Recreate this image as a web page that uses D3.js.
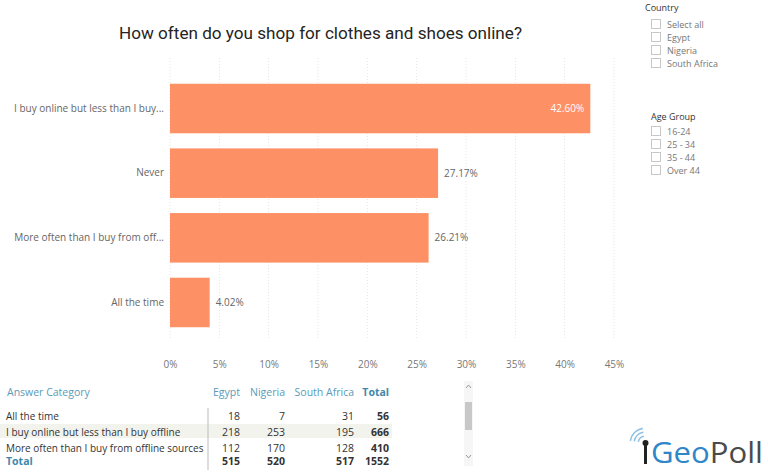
<!DOCTYPE html>
<html><head><meta charset="utf-8">
<script src="https://cdn.jsdelivr.net/npm/d3@7"></script>
<style>
html,body{margin:0;padding:0;background:#fff;}
svg{display:block;}
</style></head>
<body><svg id="c" width="768" height="472"></svg>
<script>
const title = "How often do you shop for clothes and shoes online?";
const categories = ["I buy online but less than I buy offline", "Never", "More often than I buy from offline sources", "All the time"];
const categoryLabels = ["I buy online but less than I buy...", "Never", "More often than I buy from off...", "All the time"];
const shares = [42.60, 27.17, 26.21, 4.02];
const xTicks = [0, 5, 10, 15, 20, 25, 30, 35, 40, 45];

const countryItems = ["Select all", "Egypt", "Nigeria", "South Africa"];
const ageItems = ["16-24", "25 - 34", "35 - 44", "Over 44"];

const tableColumns = ["Egypt", "Nigeria", "South Africa", "Total"];
const tableRows = ["All the time", "I buy online but less than I buy offline", "More often than I buy from offline sources"];
const egyptCounts = [18, 218, 112];
const nigeriaCounts = [7, 253, 170];
const southAfricaCounts = [31, 195, 128];
const totalCounts = [56, 666, 410];
const columnTotals = [515, 520, 517, 1552];

const svg = d3.select("#c");
const font = "'Open Sans', 'Noto Sans', sans-serif";
const barColor = "#FD9064";

// title
svg.append("text").attr("x", 119).attr("y", 39)
  .attr("font-family", "Roboto, 'DejaVu Sans', sans-serif").attr("font-size", 17)
  .attr("fill", "#252423").attr("textLength", 403).attr("lengthAdjust", "spacingAndGlyphs")
  .text(title);

// scales
const x = d3.scaleLinear().domain([0, 45]).range([170, 614]);
const y = d3.scaleBand().domain(categories).range([76, 335]).paddingInner(0.234).paddingOuter(0.12);

// gridlines
svg.append("g").selectAll("line").data(xTicks).join("line")
  .attr("x1", d => x(d)).attr("x2", d => x(d)).attr("y1", 58).attr("y2", 338)
  .attr("stroke", "#e4e4e4").attr("stroke-width", 1).attr("stroke-dasharray", "1,2");

// x axis
const xAxis = d3.axisBottom(x).tickValues(xTicks).tickFormat(d => d + "%").tickSize(0).tickPadding(0);
const gx = svg.append("g").attr("transform", "translate(0,361)").call(xAxis);
gx.select(".domain").remove();
gx.selectAll("text").attr("font-family", font).attr("font-size", 10).attr("fill", "#777");

// y axis
const yAxis = d3.axisLeft(y).tickSize(0).tickPadding(0).tickFormat((d, i) => categoryLabels[i]);
const gy = svg.append("g").attr("transform", "translate(164,0)").call(yAxis);
gy.select(".domain").remove();
gy.selectAll("text").attr("font-family", font).attr("font-size", 10).attr("fill", "#666");

// bars
svg.append("g").selectAll("rect").data(categories).join("rect")
  .attr("x", x(0)).attr("y", d => y(d))
  .attr("width", (d, i) => x(shares[i]) - x(0)).attr("height", y.bandwidth())
  .attr("fill", barColor);

// data labels
svg.append("g").selectAll("text").data(categories).join("text")
  .attr("x", (d, i) => shares[i] > 40 ? x(shares[i]) - 6 : x(shares[i]) + 6)
  .attr("y", d => y(d) + y.bandwidth() / 2 + 3.5)
  .attr("text-anchor", (d, i) => shares[i] > 40 ? "end" : "start")
  .attr("font-family", font).attr("font-size", 10)
  .attr("fill", (d, i) => shares[i] > 40 ? "#fff" : "#666")
  .text((d, i) => shares[i].toFixed(2) + "%");

// slicers
function slicer(header, items, hx, hy, boxY) {
  svg.append("text").attr("x", hx).attr("y", hy).attr("font-family", font)
    .attr("font-size", 9).attr("fill", "#333").text(header);
  const g = svg.append("g");
  items.forEach((it, i) => {
    g.append("rect").attr("x", 651.5).attr("y", boxY + i * 13 + 0.5).attr("width", 9).attr("height", 9)
      .attr("fill", "#fff").attr("stroke", "#c8c8c8");
    g.append("text").attr("x", 667).attr("y", boxY + i * 13 + 8.5).attr("font-family", font)
      .attr("font-size", 9).attr("fill", "#777").text(it);
  });
}
slicer("Country", countryItems, 645, 11, 19);
slicer("Age Group", ageItems, 651, 120, 126);

// table
const tbl = svg.append("g");
const colRight = [240, 285, 354, 389];
const rowY = [420, 436, 452];
const tfs = 10;
tbl.append("rect").attr("x", 0).attr("y", 424).attr("width", 392).attr("height", 14).attr("fill", "#f3f3ee");
tbl.append("line").attr("x1", 208).attr("x2", 208).attr("y1", 408).attr("y2", 470).attr("stroke", "#bbb");
tbl.append("text").attr("x", 7).attr("y", 396).attr("font-family", font).attr("font-size", 10.5)
  .attr("fill", "#5a9ab8").text("Answer Category");
tableColumns.forEach((c, j) => {
  tbl.append("text").attr("x", colRight[j]).attr("y", 396).attr("text-anchor", "end")
    .attr("font-family", font).attr("font-size", 10.5)
    .attr("font-weight", c === "Total" ? "bold" : "normal")
    .attr("fill", c === "Total" ? "#3e88ab" : "#5a9ab8").text(c);
});
const cols = [egyptCounts, nigeriaCounts, southAfricaCounts, totalCounts];
tableRows.forEach((r, i) => {
  tbl.append("text").attr("x", 6).attr("y", rowY[i]).attr("font-family", font).attr("font-size", tfs)
    .attr("fill", "#333").text(r);
  cols.forEach((col, j) => {
    tbl.append("text").attr("x", colRight[j]).attr("y", rowY[i]).attr("text-anchor", "end")
      .attr("font-family", font).attr("font-size", 10.5)
      .attr("font-weight", j === 3 ? "bold" : "normal").attr("fill", "#333").text(col[i]);
  });
});
tbl.append("text").attr("x", 6).attr("y", 465).attr("font-family", font).attr("font-size", 10.5)
  .attr("font-weight", "bold").attr("fill", "#3e88ab").text("Total");
columnTotals.forEach((v, j) => {
  tbl.append("text").attr("x", colRight[j]).attr("y", 465).attr("text-anchor", "end")
    .attr("font-family", font).attr("font-size", 10.5).attr("font-weight", "bold")
    .attr("fill", "#333").text(v);
});

// scrollbar
tbl.append("rect").attr("x", 464).attr("y", 381).attr("width", 9).attr("height", 85).attr("fill", "#f6f6f6");
tbl.append("rect").attr("x", 465).attr("y", 402).attr("width", 7).attr("height", 28).attr("fill", "#c8c8c8");
tbl.append("path").attr("d", "M466,388 L468.5,385 L471,388").attr("fill", "none").attr("stroke", "#999");
tbl.append("path").attr("d", "M466,455 L468.5,458 L471,455").attr("fill", "none").attr("stroke", "#999");

// logo
const logo = svg.append("g");
[6, 10, 14].forEach(r => {
  logo.append("path").attr("d", d3.arc()({innerRadius: r, outerRadius: r + 1.6, startAngle: -Math.PI / 2 + 0.15, endAngle: -0.15}))
    .attr("transform", "translate(645,443)").attr("fill", "#8fc1e6");
});
logo.append("rect").attr("x", 644).attr("y", 443).attr("width", 3).attr("height", 21).attr("fill", "#222");
logo.append("circle").attr("cx", 645.5).attr("cy", 443).attr("r", 3).attr("fill", "#222");
const lt = logo.append("text").attr("x", 651).attr("y", 463).attr("font-family", "'Open Sans', sans-serif")
  .attr("font-size", 29).attr("textLength", 112).attr("lengthAdjust", "spacingAndGlyphs");
lt.append("tspan").attr("fill", "#2f86c8").text("Geo");
lt.append("tspan").attr("fill", "#4a4a4a").text("Poll");
</script></body></html>
